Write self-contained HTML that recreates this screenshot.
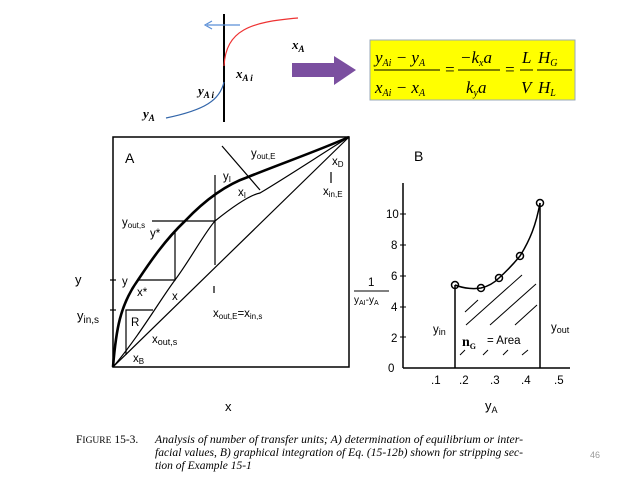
<!DOCTYPE html>
<html><head><style>
body{margin:0;width:638px;height:478px;background:#fff;overflow:hidden;font-family:"Liberation Sans",sans-serif}
</style></head><body>
<svg width="638" height="478" viewBox="0 0 638 478" xmlns="http://www.w3.org/2000/svg">
<line x1="224" y1="14" x2="224" y2="122" stroke="#000" stroke-width="2"/>
<path d="M224,66 C226,30 250,22 298,18" fill="none" stroke="#e33" stroke-width="1.2"/>
<path d="M166,118 C205,110 220,100 224,82" fill="none" stroke="#36a" stroke-width="1.2"/>
<line x1="240" y1="25" x2="207" y2="25" stroke="#5b8fd6" stroke-width="1.2"/>
<path d="M212,21 L205,25 L212,29" fill="none" stroke="#5b8fd6" stroke-width="1.2"/>
<g font-family="Liberation Serif,serif" font-style="italic" font-weight="bold" font-size="13">
<text x="292" y="49">x<tspan font-size="9" dy="3">A</tspan></text>
<text x="236" y="78">x<tspan font-size="9" dy="3">A i</tspan></text>
<text x="198" y="95">y<tspan font-size="9" dy="3">A i</tspan></text>
<text x="143" y="118">y<tspan font-size="9" dy="3">A</tspan></text>
</g>
<path d="M292,63 H334 V56 L356,70 L334,85 V77 H292 Z" fill="#7b4fa0"/>
<rect x="370" y="40" width="205" height="60" fill="#ffff00" stroke="#9ab" stroke-width="1"/>
<g font-family="Liberation Serif,serif" font-style="italic" font-size="17">
<text x="375" y="63">y<tspan font-size="10" dy="3">Ai</tspan><tspan dy="-3"> − y</tspan><tspan font-size="10" dy="3">A</tspan></text>
<text x="375" y="93">x<tspan font-size="10" dy="3">Ai</tspan><tspan dy="-3"> − x</tspan><tspan font-size="10" dy="3">A</tspan></text>
<line x1="374" y1="70" x2="440" y2="70" stroke="#000"/>
<text x="444" y="75">=</text>
<text x="460" y="63">−k<tspan font-size="10" dy="3">x</tspan><tspan dy="-3">a</tspan></text>
<text x="466" y="93">k<tspan font-size="10" dy="3">y</tspan><tspan dy="-3">a</tspan></text>
<line x1="458" y1="70" x2="500" y2="70" stroke="#000"/>
<text x="504" y="75">=</text>
<text x="522" y="63">L</text><text x="521" y="93">V</text>
<line x1="520" y1="70" x2="533" y2="70" stroke="#000"/>
<text x="538" y="63">H<tspan font-size="10" dy="3">G</tspan></text>
<text x="538" y="93">H<tspan font-size="10" dy="3">L</tspan></text>
<line x1="537" y1="70" x2="572" y2="70" stroke="#000"/>
</g>
<rect x="113" y="137" width="236" height="230" fill="none" stroke="#000" stroke-width="1.5"/>
<g fill="none" stroke="#000" stroke-width="1.2">
<line x1="113" y1="367" x2="349" y2="137"/>
<path d="M113,367 C140,335 160,300 175,280 C190,260 205,232 215,221 C235,205 250,195 260,193 C290,175 320,155 349,137"/>
<path d="M113,367 C116,330 120,305 138,280 C150,262 165,240 185,221 C205,200 225,185 248,177 C280,164 320,150 349,137" stroke-width="2.6"/>
<polyline points="126,355 126,310 153,310"/>
<polyline points="138,280 175,280 175,232"/>
<line x1="152" y1="221" x2="215" y2="221"/>
<line x1="215" y1="175" x2="215" y2="265"/>
<line x1="222" y1="146" x2="260" y2="190"/>
<line x1="214" y1="286" x2="214" y2="293"/>
<line x1="331" y1="172" x2="331" y2="183"/>
<line x1="110" y1="280" x2="116" y2="280"/>
<line x1="110" y1="310" x2="116" y2="310"/>
</g>
<g font-size="11.5" fill="#000">
<text x="125" y="163" font-size="14">A</text>
<text x="251" y="157">y<tspan font-size="8" dy="2">out,E</tspan></text>
<text x="332" y="165">x<tspan font-size="8" dy="2">D</tspan></text>
<text x="323" y="195">x<tspan font-size="8" dy="2">in,E</tspan></text>
<text x="223" y="180">y<tspan font-size="8" dy="2">I</tspan></text>
<text x="238" y="196">x<tspan font-size="8" dy="2">I</tspan></text>
<text x="122" y="226">y<tspan font-size="8" dy="2">out,s</tspan></text>
<text x="150" y="237">y*</text>
<text x="122" y="285">y</text>
<text x="137" y="296">x*</text>
<text x="172" y="300">x</text>
<text x="131" y="326">R</text>
<text x="152" y="343">x<tspan font-size="9" dy="2">out,s</tspan></text>
<text x="213" y="317">x<tspan font-size="8" dy="2">out,E</tspan><tspan dy="-2">=x</tspan><tspan font-size="8" dy="2">in,s</tspan></text>
<text x="133" y="362">x<tspan font-size="8" dy="2">B</tspan></text>
<text x="75" y="284" font-size="13">y</text>
<text x="77" y="320" font-size="13">y<tspan font-size="10" dy="3">in,s</tspan></text>
<text x="225" y="411" font-size="13">x</text>
</g>
<text x="414" y="161" font-size="14">B</text>
<g stroke="#000" stroke-width="1.5" fill="none">
<line x1="403" y1="183" x2="403" y2="368"/>
<line x1="403" y1="368" x2="570" y2="368"/>
<line x1="455" y1="285" x2="455" y2="368"/>
<line x1="540" y1="203" x2="540" y2="368"/>
<path d="M455,285 C465,289 475,289 481,288 C490,286 495,282 499,278 C508,270 515,262 520,256 C530,240 536,225 540,203"/>
<circle cx="455" cy="285" r="3.5"/><circle cx="481" cy="288" r="3.5"/><circle cx="499" cy="278" r="3.5"/><circle cx="520" cy="256" r="3.5"/><circle cx="540" cy="203" r="3.5"/>
</g>
<g stroke="#000" stroke-width="1">
<line x1="465" y1="312" x2="478" y2="300"/><line x1="466" y1="325" x2="522" y2="275"/>
<line x1="490" y1="325" x2="536" y2="284"/><line x1="515" y1="325" x2="537" y2="305"/>
<line x1="460" y1="355" x2="465" y2="350"/><line x1="483" y1="355" x2="488" y2="350"/><line x1="503" y1="355" x2="508" y2="350"/><line x1="522" y1="355" x2="528" y2="350"/>
<line x1="400" y1="214" x2="406" y2="214"/><line x1="400" y1="245" x2="406" y2="245"/><line x1="400" y1="276" x2="406" y2="276"/><line x1="400" y1="307" x2="406" y2="307"/><line x1="400" y1="337" x2="406" y2="337"/>
<line x1="354" y1="291" x2="389" y2="291"/>
</g>
<g font-size="11.5">
<text x="386" y="218">10</text><text x="391" y="249">8</text><text x="391" y="280">6</text><text x="391" y="311">4</text><text x="391" y="342">2</text><text x="388" y="372">0</text>
<text x="431" y="384">.1</text><text x="459" y="384">.2</text><text x="490" y="384">.3</text><text x="521" y="384">.4</text><text x="554" y="384">.5</text>
<text x="368" y="286">1</text>
<text x="354" y="303" font-size="10">y<tspan font-size="7" dy="2">AI</tspan><tspan dy="-2">-y</tspan><tspan font-size="7" dy="2">A</tspan></text>
<text x="433" y="333">y<tspan font-size="9" dy="2">in</tspan></text>
<text x="551" y="331">y<tspan font-size="9" dy="2">out</tspan></text>
<text x="462" y="346" font-family="Liberation Serif,serif" font-weight="bold" font-size="14">n<tspan font-size="8" dy="3">G</tspan></text>
<text x="487" y="344">= Area</text>
<text x="485" y="410" font-size="13">y<tspan font-size="9" dy="3">A</tspan></text>
</g>
<g font-family="Liberation Serif,serif" font-size="11.5">
<text x="76" y="443">F<tspan font-size="9.5">IGURE</tspan> 15-3.</text>
<g font-style="italic">
<text x="155" y="443" textLength="368" lengthAdjust="spacingAndGlyphs">Analysis of number of transfer units; A) determination of equilibrium or inter-</text>
<text x="155" y="456" textLength="368" lengthAdjust="spacingAndGlyphs">facial values, B) graphical integration of Eq. (15-12b) shown for stripping sec-</text>
<text x="155" y="469">tion of Example 15-1</text>
</g>
</g>
<text x="590" y="458" font-size="9" fill="#999">46</text>
</svg>
</body></html>
